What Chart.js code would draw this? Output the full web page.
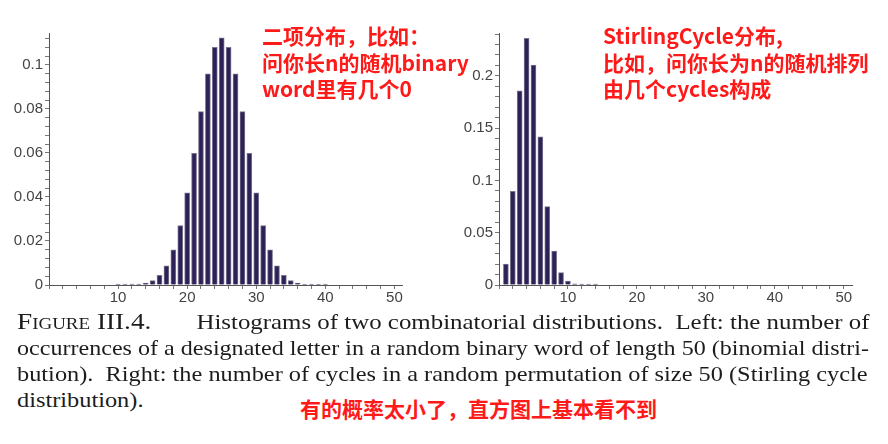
<!DOCTYPE html>
<html>
<head>
<meta charset="utf-8">
<script src="https://cdn.jsdelivr.net/npm/chart.js@4.4.1/dist/chart.umd.min.js"></script>
<style>
  body { margin: 0; width: 888px; height: 444px; background: #fff; position: relative; overflow: hidden; }
  .box { position: absolute; top: 0; }
  .note { position: absolute; color: #ff1a1a; font: bold 21px "Noto Sans CJK SC", sans-serif; line-height: 26.5px; white-space: nowrap; }
  .cap { position: absolute; left: 17px; font: 21px "Liberation Serif", serif; line-height: 26px; color: #1c1c1c; white-space: nowrap; transform-origin: 0 50%; }
  .sc { font-variant: small-caps; font-size: 23px; }
  .gap { display: inline-block; width: 38px; }
</style>
</head>
<body>
<div class="box" style="left:0"><canvas id="binomChart" width="420" height="312"></canvas></div>
<div class="box" style="left:444px"><canvas id="stirlingChart" width="420" height="312"></canvas></div>

<div class="note" style="left:262px;top:22px">二项分布，比如：<br>问你长n的随机binary<br>word里有几个0</div>
<div class="note" style="left:603px;top:22px">StirlingCycle分布,<br>比如，问你长为n的随机排列<br>由几个cycles构成</div>

<div class="cap" data-w="852" style="top:309px"><span class="sc">Figure III.4.</span><span class="gap"></span>Histograms of two combinatorial distributions.&nbsp; Left: the number of</div>
<div class="cap" data-w="852" style="top:335px">occurrences of a designated letter in a random binary word of length 50 (binomial distri-</div>
<div class="cap" data-w="851" style="top:361px">bution).&nbsp; Right: the number of cycles in a random permutation of size 50 (Stirling cycle</div>
<div class="cap" id="lastCap" style="top:387px">distribution).</div>
<div class="note" style="left:300px;top:395px;line-height:26px">有的概率太小了，直方图上基本看不到</div>

<script>
// left: occurrences of a letter in a binary word of length 50
const binomK = [10, 11, 12, 13, 14, 15, 16, 17, 18, 19, 20, 21, 22, 23, 24, 25,
                26, 27, 28, 29, 30, 31, 32, 33, 34, 35, 36, 37, 38, 39, 40];
const binomP = [0.00001, 0.00004, 0.0001, 0.0003, 0.0009, 0.0020, 0.0044, 0.0087, 0.0160, 0.0270, 0.0419, 0.0598, 0.0788, 0.0960, 0.1080, 0.1123,
                0.1080, 0.0960, 0.0788, 0.0598, 0.0419, 0.0270, 0.0160, 0.0087, 0.0044, 0.0020, 0.0009, 0.0003, 0.0001, 0.00004, 0.00001];

// right: number of cycles in a random permutation of size 50
const cycleK = [1, 2, 3, 4, 5, 6, 7, 8, 9, 10, 11, 12, 13, 14];
const cycleP = [0.0200, 0.0896, 0.1857, 0.2358, 0.2103, 0.1418, 0.0749, 0.0325, 0.0118, 0.0038, 0.0010, 0.0002, 0.00005, 0.00001];

const binomYLabels = [0, 0.02, 0.04, 0.06, 0.08, 0.1];
const cycleYLabels = [0, 0.05, 0.1, 0.15, 0.2];
const xLabels = [10, 20, 30, 40, 50];

const tickFont = { family: '"Liberation Sans", Arial, sans-serif', size: 15 };
const barFill = '#2e2157';
const barEdge = '#7a7490';

function near(list, v) {
  return list.some(t => Math.abs(t - v) < 1e-6);
}

function histogram(id, ks, ps, opt) {
  return new Chart(document.getElementById(id), {
    type: 'bar',
    data: {
      datasets: [{
        data: ks.map((k, i) => ({ x: k, y: ps[i] })),
        backgroundColor: barFill,
        borderColor: barEdge,
        borderWidth: 1,
        barThickness: 5,
        minBarLength: 1
      }]
    },
    options: {
      responsive: false,
      animation: false,
      layout: { padding: { top: 33, right: opt.padRight, left: 0, bottom: 0 } },
      plugins: { legend: { display: false }, tooltip: { enabled: false } },
      scales: {
        x: {
          type: 'linear', min: 0, max: opt.xMax, offset: false,
          grid: { drawOnChartArea: false, offset: false, tickLength: 4, color: '#777' },
          border: { color: '#555' },
          ticks: {
            stepSize: 2, includeBounds: false, autoSkip: false, maxRotation: 0,
            padding: 0, color: '#444', font: tickFont,
            callback: v => near(xLabels, v) ? String(v) : ''
          },
          afterFit: s => { s.height = 27; }
        },
        y: {
          min: 0, max: opt.yMax,
          grid: { drawOnChartArea: false, tickLength: 4, color: '#777' },
          border: { color: '#555' },
          ticks: {
            stepSize: opt.yStep, includeBounds: false, autoSkip: false,
            padding: 2, color: '#444', font: tickFont,
            callback: v => near(opt.yLabels, v) ? String(+v.toFixed(2)) : ''
          },
          afterFit: s => { s.width = opt.axisWidth; }
        }
      }
    }
  });
}

histogram('binomChart', binomK, binomP, { xMax: 51.1, yMax: 0.1145, yStep: 0.004, yLabels: binomYLabels, axisWidth: 49, padRight: 18 });
histogram('stirlingChart', cycleK, cycleP, { xMax: 51.2, yMax: 0.241, yStep: 0.01, yLabels: cycleYLabels, axisWidth: 55, padRight: 12 });

// stretch the caption lines to the justified width of the printed page
let lastScale = 1;
document.querySelectorAll('.cap[data-w]').forEach(el => {
  lastScale = Number(el.dataset.w) / el.scrollWidth;
  el.style.transform = `scaleX(${lastScale})`;
});
document.getElementById('lastCap').style.transform = `scaleX(${lastScale})`;
</script>
</body>
</html>
